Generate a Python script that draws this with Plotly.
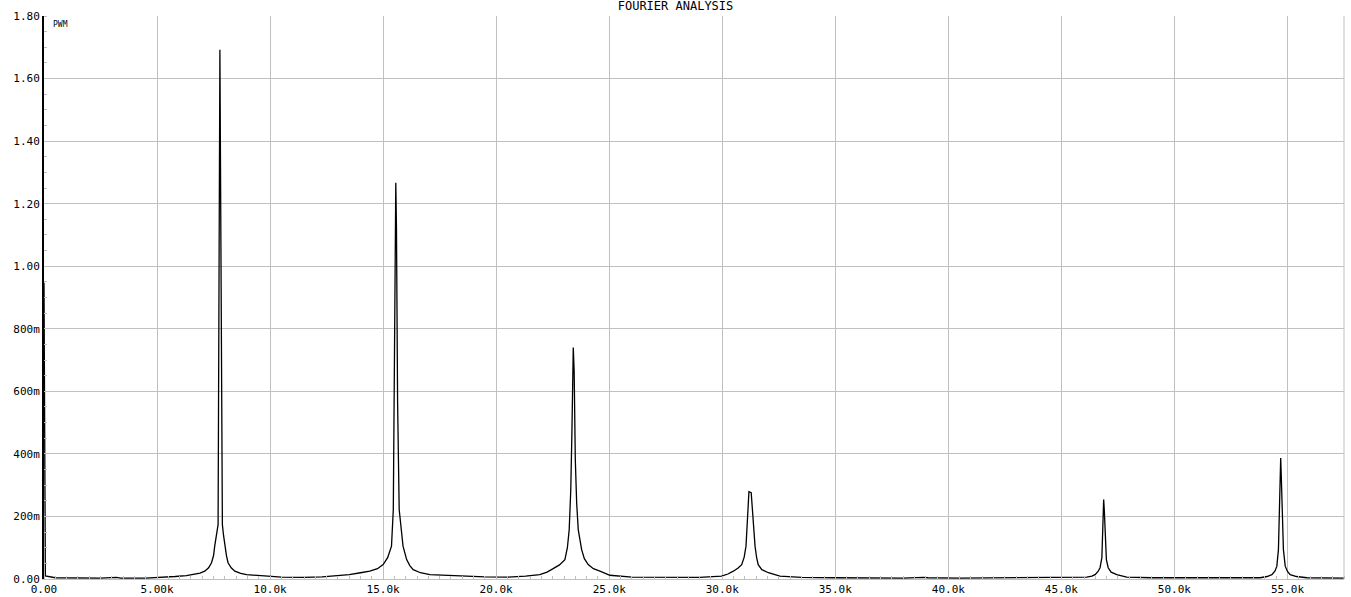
import plotly.graph_objects as go

freq_khz = [
    0.00, 0.06, 0.5, 1.5, 2.5, 3.2, 3.4, 4.5, 5.2, 5.8, 6.3, 6.6, 6.9,
    7.11, 7.28, 7.41, 7.50, 7.55, 7.63, 7.70, 7.78, 7.80, 7.84, 7.89, 7.94,
    8.00, 8.07, 8.14, 8.28, 8.44, 8.7, 8.96, 9.4,
    9.9, 10.5, 11.5, 12.3, 13.0, 13.5, 14.0, 14.41, 14.75, 15.0, 15.2, 15.37, 15.45,
    15.56, 15.59, 15.64, 15.71, 15.80, 15.88, 16.04, 16.18, 16.33, 16.65, 17.07, 17.88, 18.5,
    19.5, 20.5, 21.3, 21.93, 22.25, 22.52, 22.8, 23.04, 23.15, 23.23, 23.30, 23.35, 23.38,
    23.41, 23.45, 23.50, 23.56, 23.63, 23.78, 23.9, 24.07, 24.3, 24.59, 25.03, 26.0,
    27.83, 29.0, 29.97, 30.25, 30.49, 30.7, 30.86, 30.97, 31.05, 31.12, 31.18, 31.28, 31.37,
    31.45, 31.52, 31.59, 31.75, 32.04, 32.55, 33.5, 35.0, 36.5, 38.0, 38.9, 39.1, 40.5,
    42.2, 42.5, 44.5, 45.5, 46.12, 46.35, 46.49, 46.62, 46.71, 46.79, 46.87, 46.90,
    46.99, 47.07, 47.2, 47.45, 47.89, 49.0, 51.0, 52.5, 53.79, 54.1, 54.31, 54.45, 54.53,
    54.60, 54.70, 54.73, 54.82, 54.90, 55.0, 55.12, 55.4, 55.86, 56.5, 57.5,
]
magnitude = [
    0.947, 0.010, 0.004, 0.003, 0.003, 0.005, 0.003, 0.003, 0.005, 0.008, 0.011, 0.014, 0.019,
    0.025, 0.036, 0.052, 0.075, 0.105, 0.140, 0.174, 1.692, 1.324, 0.605, 0.174, 0.140,
    0.105, 0.075, 0.052, 0.036, 0.025, 0.018, 0.014, 0.011,
    0.009, 0.006, 0.005, 0.007, 0.010, 0.014, 0.020, 0.025, 0.033, 0.046, 0.068, 0.105, 0.222,
    1.267, 1.123, 0.563, 0.222, 0.150, 0.105, 0.062, 0.043, 0.030, 0.020, 0.014, 0.011, 0.009,
    0.007, 0.006, 0.009, 0.014, 0.022, 0.033, 0.045, 0.062, 0.100, 0.158, 0.286, 0.468, 0.648,
    0.740, 0.663, 0.382, 0.243, 0.158, 0.094, 0.065, 0.046, 0.033, 0.025, 0.012, 0.006,
    0.004, 0.005, 0.009, 0.016, 0.025, 0.035, 0.046, 0.070, 0.105, 0.180, 0.279, 0.276, 0.180,
    0.105, 0.068, 0.046, 0.030, 0.020, 0.009, 0.005, 0.004, 0.003, 0.003, 0.005, 0.004, 0.003,
    0.004, 0.003, 0.003, 0.005, 0.006, 0.009, 0.014, 0.024, 0.036, 0.068, 0.254, 0.217,
    0.062, 0.036, 0.022, 0.014, 0.006, 0.004, 0.003, 0.004, 0.004, 0.008, 0.014, 0.026, 0.041,
    0.094, 0.387, 0.320, 0.094, 0.041, 0.024, 0.014, 0.008, 0.004, 0.003, 0.003,
]

y_ticks = [0.0, 0.2, 0.4, 0.6, 0.8, 1.0, 1.2, 1.4, 1.6, 1.8]
y_labels = ["0.00", "200m", "400m", "600m", "800m", "1.00", "1.20", "1.40", "1.60", "1.80"]
x_ticks = [0, 5, 10, 15, 20, 25, 30, 35, 40, 45, 50, 55]
x_labels = ["0.00", "5.00k", "10.0k", "15.0k", "20.0k", "25.0k", "30.0k",
            "35.0k", "40.0k", "45.0k", "50.0k", "55.0k"]

grid = "#c0c0c0"
font = dict(family="DejaVu Sans Mono", size=11, color="black")

fig = go.Figure()
fig.add_trace(go.Scatter(x=freq_khz, y=magnitude, mode="lines",
                         line=dict(color="black", width=1.3), name="PWM"))

fig.update_layout(
    width=1351, height=597,
    margin=dict(l=44, r=7, t=16, b=18, autoexpand=False),
    paper_bgcolor="white", plot_bgcolor="white",
    showlegend=False,
    font=font,
    title=dict(text="FOURIER ANALYSIS", x=0.5, xref="container", xanchor="center",
               y=1 - 6 / 597, yanchor="middle", font=dict(family="DejaVu Sans Mono", size=12)),
)
fig.update_xaxes(
    range=[0, 57.5], tickvals=x_ticks, ticktext=x_labels, automargin=False,
    showgrid=True, gridcolor=grid, gridwidth=1, zeroline=False,
    showline=True, linecolor=grid, linewidth=1, ticks="",
    minor=dict(dtick=0.5, ticks="inside", ticklen=3, tickcolor=grid, showgrid=False),
)
fig.update_yaxes(
    range=[0, 1.8], tickvals=y_ticks, ticktext=y_labels, automargin=False,
    showgrid=True, gridcolor=grid, gridwidth=1, zeroline=False,
    showline=True, linecolor="black", linewidth=2, ticks="",
    minor=dict(dtick=0.05, ticks="inside", ticklen=3, tickcolor=grid, showgrid=False),
)
# right hand frame
fig.add_shape(type="line", xref="paper", yref="paper", x0=1, x1=1, y0=0, y1=1,
              line=dict(color=grid, width=1))
fig.add_annotation(text="PWM", xref="paper", yref="paper", x=0.005, y=0.985,
                   xanchor="left", yanchor="middle", showarrow=False,
                   font=dict(family="DejaVu Sans Mono", size=8))

# page has a default body margin, drop it so the figure sits at 0,0
fig.write_html("out.html", config={"displayModeBar": False},
               post_script="document.body.style.margin='0px';")
